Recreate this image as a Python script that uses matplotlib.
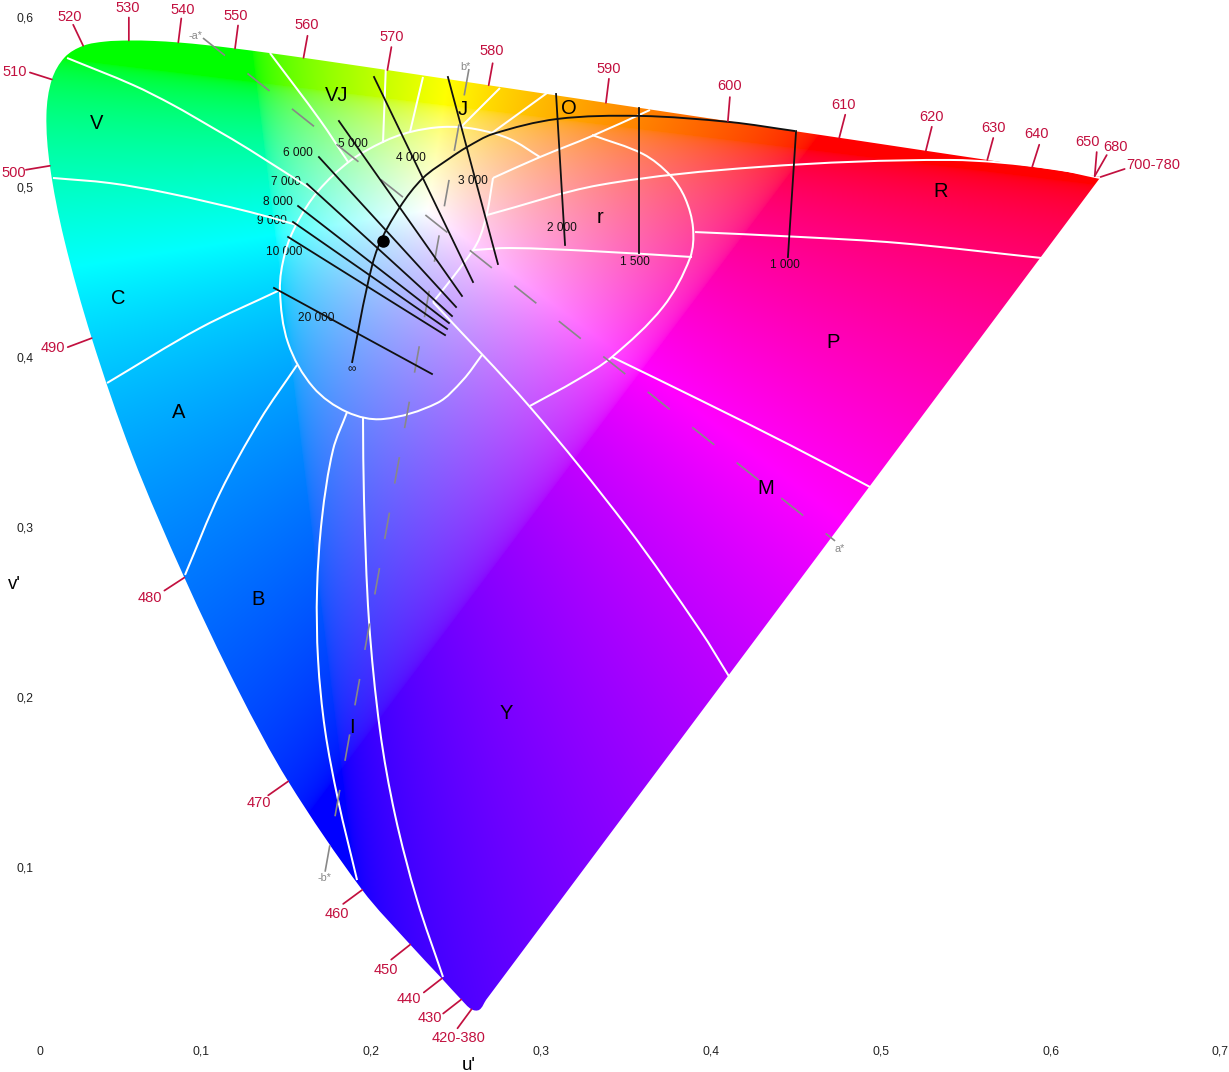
import numpy as np
import matplotlib
matplotlib.use('Agg')
import matplotlib.pyplot as plt
from matplotlib.path import Path
from matplotlib.patches import PathPatch

plt.rcParams['font.family'] = ['Liberation Sans', 'DejaVu Sans']

# Spectral locus, CIE 1931 x, y
locus_nm = [380, 420, 430, 440, 450, 460, 470, 475, 480, 485, 490, 495, 500, 505, 510, 515, 520, 525,
            530, 535, 540, 545, 550, 555, 560, 565, 570, 575, 580, 585, 590, 595, 600, 605, 610, 620,
            630, 640, 650, 680, 700]
locus_x = [.1741, .1714, .1689, .1644, .1566, .1440, .1241, .1096, .0913, .0687, .0454, .0235, .0082, .0039,
           .0139, .0389, .0743, .1142, .1547, .1929, .2296, .2658, .3016, .3373, .3731, .4087, .4441, .4788,
           .5125, .5448, .5752, .6029, .6270, .6482, .6658, .6915, .7079, .7190, .7260, .7334, .7347]
locus_y = [.0050, .0051, .0069, .0109, .0177, .0297, .0578, .0868, .1327, .2007, .2950, .4127, .5384, .6548,
           .7502, .8120, .8338, .8262, .8059, .7816, .7543, .7243, .6923, .6589, .6245, .5896, .5547, .5202,
           .4866, .4544, .4242, .3965, .3725, .3514, .3340, .3083, .2920, .2809, .2740, .2666, .2653]
purple_start = (.2608, .0224)

# Wavelength labels: anchor nm, text, tick end offset and text offset in pixels from the locus
wave_nm = [520, 530, 540, 550, 560, 570, 580, 590, 600, 610, 620, 630, 640, 680, 680, 700,
           510, 500, 490, 480, 470, 460, 450, 440, 430, 420]
wave_text = ['520', '530', '540', '550', '560', '570', '580', '590', '600', '610', '620', '630', '640', '650',
             '680', '700-780', '510', '500', '490', '480', '470', '460', '450', '440', '430', '420-380']
wave_tick = [(-10, 21), (0, 23), (3, 24), (3, 23), (4, 22), (4, 23), (4, 22), (3, 24), (2, 24), (6, 23),
             (6, 24), (6, 22), (7, 22), (2, 24), (12, 21), (24, 8), (-22, 7), (-24, -4), (-24, -9), (-20, -13),
             (-20, -14), (-19, -14), (-19, -15), (-18, -14), (-18, -14), (-14, -19)]
wave_pos = [(-13, 29), (-1, 33), (4, 32), (1, 32), (3, 33), (4, 33), (3, 34), (3, 34), (2, 35), (4, 33),
            (6, 34), (6, 32), (4, 33), (-7, 34), (21, 29), (53, 12), (-37, 7), (-36, -7), (-39, -10), (-34, -20),
            (-29, -22), (-25, -24), (-24, -25), (-33, -21), (-31, -18), (-13, -29)]

# Colour region boundaries (u', v')
bound_v_vj = ([.0136, .0525, .0761, .0997, .1215, .1611], [.5765, .5606, .5488, .5353, .5224, .4971])
bound_v_c = ([.0053, .0389, .0726, .1215, .1493], [.5059, .5029, .4971, .4859, .4782])
bound_g1 = ([.1333, .1628, .1794], [.5794, .5400, .5153])
bound_g2 = ([.2018, .2000], [.5741, .5265])
bound_g3 = ([.2236, .2159], [.5653, .5329])
bound_g4 = ([.2690, .2454], [.5588, .5353])
bound_g5 = ([.2968, .2643], [.5559, .5324])
bound_center = ([.2926, .2749, .2543, .2354, .2159, .2000, .1805, .1617, .1493, .1422, .1392, .1440, .1587, .1788,
                 .2000, .2319, .2472, .2584],
                [.5182, .5288, .5347, .5359, .5329, .5271, .5159, .4982, .4794, .4618, .4400, .4088, .3829, .3682,
                 .3641, .3735, .3871, .4018])
bound_top = ([.3575, .3233, .2926, .2649], [.5459, .5306, .5182, .5059])
bound_inner = ([.2649, .2614, .2572, .2531, .2413, .2295], [.5059, .4853, .4712, .4635, .4476, .4329])
bound_y_m = ([.2295, .2867, .3440, .3870, .4047], [.4329, .3712, .3006, .2400, .2118])
bound_r = ([.3233, .3534, .3693, .3782, .3829, .3811, .3652, .3351, .3145, .2867],
           [.5312, .5200, .5076, .4941, .4765, .4588, .4300, .4006, .3871, .3718])
bound_r_low = ([.2531, .2749, .3233, .3823], [.4635, .4647, .4629, .4594])
bound_red = ([.2614, .3280, .4224, .5345, .5935, .6230], [.4841, .5018, .5124, .5165, .5118, .5059])
bound_p_r = ([.3841, .4460, .5050, .5888], [.4741, .4712, .4676, .4588])
bound_p_m = ([.3351, .3870, .4401, .4885], [.4006, .3753, .3488, .3235])
bound_c_a = ([.0372, .0920, .1392], [.3853, .4176, .4400])
bound_a_b = ([.1493, .1274, .1038, .0832], [.3959, .3635, .3206, .2724])
bound_b_i = ([.1788, .1705, .1640, .1611, .1617, .1658, .1735, .1847],
             [.3682, .3459, .3059, .2635, .2224, .1812, .1400, .0929])
bound_i_y = ([.1882, .1888, .1917, .1982, .2071, .2201, .2354], [.3653, .3165, .2459, .1812, .1312, .0812, .0359])
boundaries = [bound_v_vj, bound_v_c, bound_g1, bound_g2, bound_g3, bound_g4, bound_g5, bound_center, bound_top,
              bound_inner, bound_y_m, bound_r, bound_r_low, bound_red, bound_p_r, bound_p_m, bound_c_a,
              bound_a_b, bound_b_i, bound_i_y]

# Planckian locus and isotherm segments
planck_u = [.1817, .1906, .1971, .2100, .2236, .2395, .2496, .2649, .3027, .3516, .4047, .4431]
planck_v = [.3971, .4418, .4653, .4888, .5059, .5176, .5241, .5318, .5406, .5424, .5388, .5335]
iso_u = [(.4437, .4389), (.3510, .3510), (.3021, .3074), (.2383, .2678), (.1947, .2531), (.1740, .2466),
         (.1622, .2431), (.1552, .2407), (.1499, .2389), (.1469, .2378), (.1440, .2366), (.1357, .2289)]
iso_v = [(.5335, .4594), (.5471, .4618), (.5553, .4665), (.5653, .4553), (.5653, .4447), (.5394, .4365),
         (.5182, .4300), (.5024, .4247), (.4894, .4206), (.4800, .4171), (.4712, .4135), (.4412, .3906)]
iso_text = ['1 000', '1 500', '2 000', '3 000', '4 000', '5 000', '6 000', '7 000', '8 000', '9 000', '10 000',
            '20 000', '∞']
iso_text_u = [.4372, .3487, .3056, .2531, .2165, .1823, .1499, .1428, .1381, .1345, .1416, .1605, .1817]
iso_text_v = [.4545, .4563, .4763, .5039, .5174, .5257, .5204, .5033, .4916, .4804, .4621, .4233, .3933]

white_dot = (.1999, .4688)

# a*, b* axes
a_axis_u = [.0938, .4667]
a_axis_v = [.5882, .2924]
b_axis_u = [.2507, .1658]
b_axis_v = [.5700, .0976]
axis_names = ['b*', '-b*', '-a*', 'a*']
axis_names_u = [.2484, .1652, .0891, .4696]
axis_names_v = [.5712, .0941, .5894, .2876]

# Region letters
region_names = ['V', 'VJ', 'J', 'O', 'r', 'R', 'P', 'C', 'A', 'B', 'M', 'I', 'Y']
region_u = [.0313, .1729, .2472, .3097, .3280, .5292, .4655, .0437, .0796, .1263, .4260, .1817, .2726]
region_v = [.5378, .5543, .5461, .5466, .4825, .4978, .4090, .4349, .3678, .2578, .3231, .1825, .1908]

# Tick labels
u_tick_text = ['0', '0,1', '0,2', '0,3', '0,4', '0,5', '0,6', '0,7']
u_tick_pos = [-.0024, .0926, .1929, .2932, .3935, .4938, .5941, .6938]
v_tick_text = ['0,6', '0,5', '0,4', '0,3', '0,2', '0,1']
v_tick_pos = [.6, .5, .4, .3, .2, .1]

RED = '#C2103F'
GREY = '#888888'


def xy_to_uv(x, y):
    d = -2 * x + 12 * y + 3
    return 4 * x / d, 9 * y / d


def smooth_path(us, vs, closed=False):
    # cubic curve through the readings, handles scaled to each segment's length
    pts = np.column_stack([us, vs])
    n = len(pts)
    tang = np.array([pts[min(i + 1, n - 1)] - pts[max(i - 1, 0)] for i in range(n)])
    tang = tang / np.linalg.norm(tang, axis=1, keepdims=True)
    verts = [pts[0]]
    codes = [Path.MOVETO]
    for i in range(n - 1):
        seg = np.linalg.norm(pts[i + 1] - pts[i])
        verts += [pts[i] + tang[i] * seg / 3, pts[i + 1] - tang[i + 1] * seg / 3, pts[i + 1]]
        codes += [Path.CURVE4] * 3
    if closed:
        verts.append(pts[0])
        codes.append(Path.CLOSEPOLY)
    return Path(verts, codes)


fig = plt.figure(figsize=(12.29, 10.72), dpi=100)
ax = fig.add_axes([0, 0, 1, 1])
xlim = (-.02596, .69912)
ylim = (-.0200, .61059)
ax.set_xlim(xlim)
ax.set_ylim(ylim)
ax.axis('off')

# Colour field
gu, gv = np.meshgrid(np.linspace(xlim[0], xlim[1], 1229), np.linspace(ylim[0], ylim[1], 1072))
d = 6 * gu - 16 * gv + 12
gx = 9 * gu / d
gy = 4 * gv / d
xyz = np.stack([gx, gy, 1 - gx - gy], axis=-1)
M = np.array([[3.2406, -1.5372, -0.4986], [-0.9689, 1.8758, 0.0415], [0.0557, -0.2040, 1.0570]])
rgb = xyz @ M.T
wu, wv = .2263, .4870
wd = 6 * wu - 16 * wv + 12
wx, wy = 9 * wu / wd, 4 * wv / wd
rgb = rgb / (M @ np.array([wx, wy, 1 - wx - wy]))
rgb = np.clip(rgb, 0, None)
rgb = rgb / np.maximum(rgb.max(axis=-1, keepdims=True), 1e-6)
rgb = rgb ** (1 / 2.2)

lu, lv = xy_to_uv(np.array(locus_x), np.array(locus_y))
im = ax.imshow(rgb, extent=[xlim[0], xlim[1], ylim[0], ylim[1]], origin='lower', aspect='auto', zorder=1,
               interpolation='nearest')
outline = smooth_path(np.r_[purple_start[0], lu], np.r_[purple_start[1], lv], closed=True)
im.set_clip_path(PathPatch(outline, transform=ax.transData))

# Isotherm labels sit under the white lines
for t, tu, tv in zip(iso_text, iso_text_u, iso_text_v):
    ax.text(tu, tv, t, fontsize=8.6, color='#111111', ha='center', va='center', zorder=2)

for us, vs in boundaries:
    ax.add_patch(PathPatch(smooth_path(us, vs), fill=False, edgecolor='white', lw=1.45, zorder=3))

# a*, b* dashed axes
ax.plot(a_axis_u, a_axis_v, color=GREY, lw=1.2, linestyle=(0, (16.9, 17.2)), zorder=4)
ax.plot(b_axis_u, b_axis_v, color=GREY, lw=1.2, linestyle=(0, (16.1, 17.7)), zorder=4)
for t, tu, tv in zip(axis_names, axis_names_u, axis_names_v):
    ax.text(tu, tv, t, fontsize=7.8, color=GREY, ha='center', va='center', zorder=5)

# Planckian locus
ax.add_patch(PathPatch(smooth_path(planck_u, planck_v), fill=False, edgecolor='#111111', lw=1.35, zorder=5))
for us, vs in zip(iso_u, iso_v):
    ax.plot(us, vs, color='#111111', lw=1.3, zorder=5)
ax.plot(*white_dot, 'o', color='black', ms=8, zorder=6)

for t, tu, tv in zip(region_names, region_u, region_v):
    ax.text(tu, tv, t, fontsize=14.5, color='black', ha='center', va='center', zorder=6)

# Wavelength ticks and labels
for nm, t, tick, pos in zip(wave_nm, wave_text, wave_tick, wave_pos):
    i = locus_nm.index(nm)
    ax.annotate('', xy=(lu[i], lv[i]), xytext=tick, textcoords='offset pixels', zorder=6,
                arrowprops=dict(arrowstyle='-', color=RED, lw=1.25, shrinkA=0, shrinkB=0))
    ax.annotate(t, xy=(lu[i], lv[i]), xytext=pos, textcoords='offset pixels', color=RED, fontsize=10.5,
                ha='center', va='center', zorder=6)

for t, p in zip(u_tick_text, u_tick_pos):
    ax.text(p, -.0082, t, fontsize=8.7, color='#222222', ha='center', va='center')
for t, p in zip(v_tick_text, v_tick_pos):
    ax.text(-.0112, p, t, fontsize=8.7, color='#222222', ha='center', va='center')
ax.text(.2507, -.0159, "u'", fontsize=13.5, color='black', ha='center', va='center')
ax.text(-.0177, .2665, "v'", fontsize=13.5, color='black', ha='center', va='center')

fig.savefig('out.png', dpi=100)
